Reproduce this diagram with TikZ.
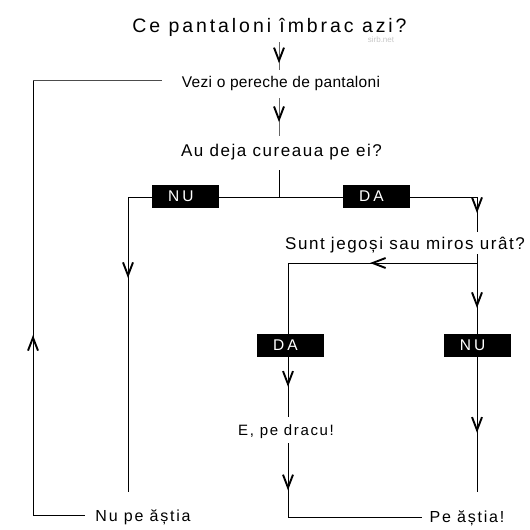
\documentclass[tikz,border=0pt]{standalone}
\usepackage{fontspec}
\setmainfont{Liberation Sans}
\newfontfamily\titlefont[LetterSpace=15]{Liberation Sans}
\newfontfamily\lookfont[LetterSpace=2]{Liberation Sans}
\newfontfamily\askfont[LetterSpace=9]{Liberation Sans}
\newfontfamily\endfont[LetterSpace=11]{Liberation Sans}
\newfontfamily\boxfont[LetterSpace=20]{Liberation Sans}
\usetikzlibrary{arrows.meta,decorations.markings}

\begin{document}
\begin{tikzpicture}[x=1pt, y=-1pt,
	txt/.style={inner sep=0pt, anchor=base},
	ask/.style={font=\askfont\fontsize{17}{20}\selectfont},
	ending/.style={font=\endfont\fontsize{16}{19}\selectfont},
	answer/.style={fill=black, text=white, minimum width=67pt, minimum height=22.5pt, inner sep=0pt, outer sep=0pt, font=\boxfont\fontsize{15.5}{18}\selectfont},
	flow/.style={line width=1pt},
	midtip/.style={postaction={decorate}, decoration={markings, mark=at position #1 with {\arrow{Straight Barb[length=13pt, width=10pt, line width=1.9pt, color=black]}}}}]
			%%%%% START %%%%%
			
			\fill[white] (0, 0) rectangle (530, 530);
			\useasboundingbox (0, 0) rectangle (530, 530);
			
			\node[txt, font=\titlefont\fontsize{19.5}{22}\selectfont] (title) at (269.5, 32) {Ce pantaloni îmbrac azi?};
			\node[txt, font=\fontsize{8}{9}\selectfont, text=black!22] (sig) at (381, 42) {sirb.net};
			\node[txt, font=\lookfont\fontsize{15.5}{18}\selectfont] (look) at (281, 87) {Vezi o pereche de pantaloni};
			\node[txt, ask] (belt) at (281.5, 156) {Au deja cureaua pe ei?};
			
			\node[answer] (noBelt) at (185.3, 196.3) {NU\kern9pt};
			\node[answer] (yesBelt) at (376, 196.3) {DA\kern9pt};
			
			\node[txt, ask] (dirty) at (405, 249) {Sunt jegoși sau miros urât?};
			
			\node[answer] (yesDirty) at (290, 345.5) {DA\kern9pt};
			\node[answer] (noDirty) at (477, 345.5) {NU\kern9pt};
			
			\node[txt, font=\endfont\fontsize{15}{18}\selectfont] (fine) at (286, 435) {E, pe dracu!};
			\node[txt, ending] (nope) at (143, 521) {Nu pe ăștia};
			\node[txt, ending] (these) at (467, 522) {Pe ăștia!};
			
			\coordinate (fork) at (279, 197);
			\coordinate (forkL) at (128, 197);
			\coordinate (forkR) at (477, 197);
			\coordinate (branch) at (477, 263);
			\coordinate (turnL) at (288, 263);
			\coordinate (turnB) at (288, 517);
			\coordinate (loopT) at (33, 80);
			\coordinate (loopB) at (33, 515);
			
			% top
			\draw[flow, color=black!60, midtip=27pt, shorten <=6pt, shorten >=5.7pt] (title.south -| fork) -- (look.north -| fork);
			\draw[flow, color=black!60, midtip=31.7pt, shorten <=7.7pt, shorten >=7.6pt] (look.south -| fork) -- (belt.north -| fork);
			
			% back to the start
			\draw[flow, shorten >=10pt] (loopB) -- (loopB -| nope.west);
			\draw[flow, midtip=180pt] (loopB) -- (loopT);
			\draw[flow, color=black!70, shorten >=20pt] (loopT) -- (loopT -| look.west);
			
			% belt
			\draw[flow, shorten <=10.4pt] (belt.south -| fork) -- (fork);
			\draw[flow] (forkL) -- (forkL -| noBelt.west);
			\draw[flow] (fork -| noBelt.east) -- (fork -| yesBelt.west);
			\draw[flow] (forkR -| yesBelt.east) -- (forkR);
			\draw[flow, midtip=81pt, shorten >=17pt] (forkL) -- (forkL |- nope.north);
			\draw[flow, midtip=16pt, shorten >=4.6pt] (forkR) -- (forkR |- dirty.north);
			
			% dirty
			\draw[flow, shorten <=1.4pt] (branch |- dirty.south) -- (branch);
			\draw[flow, midtip=107pt] (branch) -- (turnL);
			\draw[flow] (turnL) -- (turnL |- yesDirty.north);
			\draw[flow, midtip=45pt] (branch) -- (noDirty.north);
			\draw[flow, midtip=76pt, shorten >=18pt] (noDirty.south) -- (noDirty.south |- these.north);
			\draw[flow, midtip=30pt, shorten >=7pt] (turnL |- yesDirty.south) -- (turnL |- fine.north);
			\draw[flow, midtip=52pt, shorten <=5pt] (turnL |- fine.south) -- (turnB);
			\draw[flow, shorten >=8pt] (turnB) -- (turnB -| these.west);
			
			%%%%% END %%%%%
\end{tikzpicture}
\end{document}
